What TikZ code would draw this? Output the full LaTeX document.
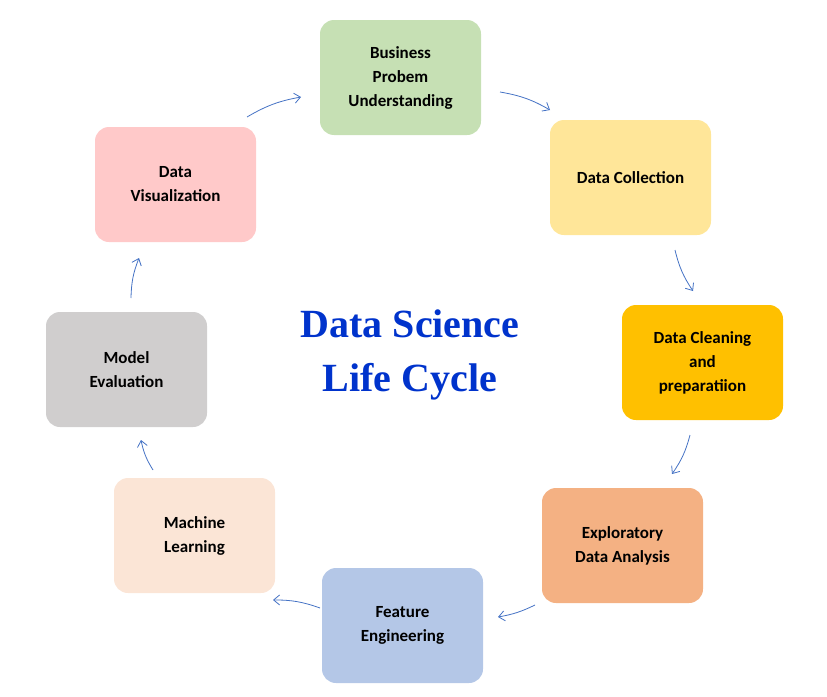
\documentclass[tikz,border=0pt]{standalone}
\usepackage{fontspec}
\setmainfont{Carlito}
\newfontfamily\titlefont{Liberation Serif}
\usetikzlibrary{arrows.meta}
\definecolor{cgreen}{HTML}{C6E0B4}
\definecolor{cyellow}{HTML}{FFE699}
\definecolor{cgold}{HTML}{FFC000}
\definecolor{corange}{HTML}{F4B183}
\definecolor{cblue}{HTML}{B4C7E7}
\definecolor{cpeach}{HTML}{FBE5D6}
\definecolor{cgray}{HTML}{D0CECE}
\definecolor{cpink}{HTML}{FFC9C9}
\definecolor{arrowc}{HTML}{4472C4}
\definecolor{titlec}{HTML}{0033CC}
\tikzset{
  box/.style={rounded corners=14pt, minimum width=161pt, minimum height=115pt, align=center, font=\fontsize{17}{24}\selectfont\bfseries, inner sep=0pt},
  arr/.style={draw=arrowc, line width=0.8pt, -{Straight Barb[length=6pt,width=10pt]}}
}
\begin{document}
\begin{tikzpicture}[x=1pt,y=-1pt]
\useasboundingbox (0,0) rectangle (827,696);
\node[box, fill=cgreen] (bus) at (400.5,77.5) {Business\\Probem\\Understanding};
\node[box, fill=cyellow] (col) at (630.5,177.5) {Data Collection};
\node[box, fill=cgold] (cln) at (702.5,362.5) {Data Cleaning\\and\\preparatiion};
\node[box, fill=corange] (eda) at (622.5,545.5) {Exploratory\\Data Analysis};
\node[box, fill=cblue] (fea) at (402.5,625.5) {Feature\\Engineering};
\node[box, fill=cpeach] (ml) at (194.5,535.5) {Machine\\Learning};
\node[box, fill=cgray] (mod) at (126.5,369.5) {Model\\Evaluation};
\node[box, fill=cpink] (vis) at (175.5,184.5) {Data\\Visualization};
\node[font=\titlefont\fontsize{40}{54}\selectfont\bfseries, text=titlec, align=center] (title) at (410,355) {Data Science\\Life Cycle};
\coordinate (a1s) at (247,117); \coordinate (a1e) at (301,97);
\coordinate (a2s) at (500,92); \coordinate (a2e) at (550,110);
\coordinate (a3s) at (675,250); \coordinate (a3e) at (693,291);
\coordinate (a4s) at (690,435); \coordinate (a4e) at (672,474);
\coordinate (a5s) at (535,605); \coordinate (a5e) at (498,617);
\coordinate (a6s) at (320,608); \coordinate (a6e) at (273,600);
\coordinate (a7s) at (153,470); \coordinate (a7e) at (141,440);
\coordinate (a8s) at (131,298); \coordinate (a8e) at (139,258);
\draw[arr] (a1s) to[bend left=10] (a1e);
\draw[arr] (a2s) to[bend left=10] (a2e);
\draw[arr] (a3s) to[bend right=10] (a3e);
\draw[arr] (a4s) to[bend left=10] (a4e);
\draw[arr] (a5s) to[bend left=8] (a5e);
\draw[arr] (a6s) to[bend right=10] (a6e);
\draw[arr] (a7s) to[bend left=10] (a7e);
\draw[arr] (a8s) to[bend left=10] (a8e);
\end{tikzpicture}
\end{document}
